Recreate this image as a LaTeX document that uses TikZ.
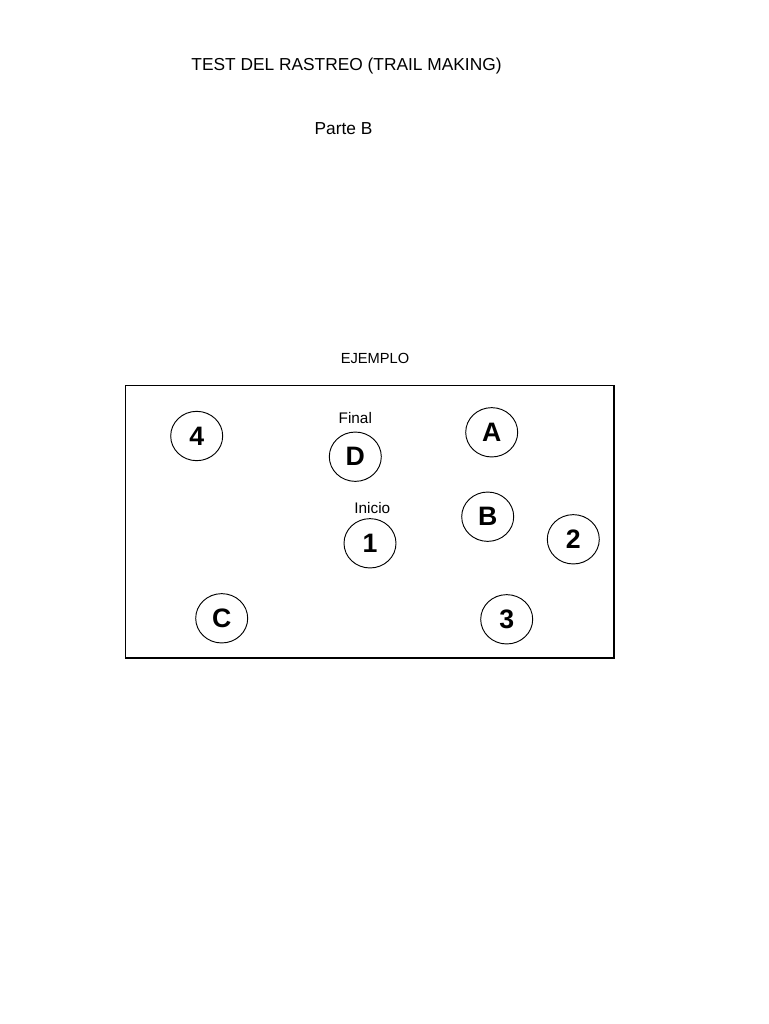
\documentclass[tikz,border=0pt]{standalone}
\usepackage{fontspec}
\setmainfont{Liberation Sans}
\usetikzlibrary{shapes.geometric}
\begin{document}
\begin{tikzpicture}[x=0.75pt,y=-0.75pt,
  circ/.style={draw=black,line width=0.7pt,ellipse,minimum width=39pt,minimum height=37pt,inner sep=0pt,font=\fontsize{20}{22}\selectfont\bfseries},
  lab/.style={font=\fontsize{11.5}{13}\selectfont,inner sep=0pt},
  ttl/.style={font=\fontsize{13}{15}\selectfont,inner sep=0pt}]
\useasboundingbox[fill=white] (0,0) rectangle (768,1024);
\node[ttl] (title) at (346.5,66) {TEST DEL RASTREO (TRAIL MAKING)};
\node[ttl] (parte) at (343.5,129) {Parte B};
\node[font=\fontsize{11}{13}\selectfont,inner sep=0pt] (ej) at (375,358) {EJEMPLO};
\draw[line width=1pt] (125.5,385.5) rectangle (614,658);
\node[circ] (n4) at (196.7,436) {4};
\node[circ] (nD) at (355.3,456.7) {D};
\node[circ] (nA) at (491.7,432.3) {A};
\node[circ] (nB) at (487.7,516.7) {B};
\node[circ] (n1) at (370,543.3) {1};
\node[circ] (n2) at (573.3,539.3) {2};
\node[circ] (nC) at (221.7,618.3) {C};
\node[circ] (n3) at (506.7,619.3) {3};
\node[lab] (final) at (355.3,418.5) {Final};
\node[lab] (inicio) at (372.3,508.5) {Inicio};
\end{tikzpicture}
\end{document}
